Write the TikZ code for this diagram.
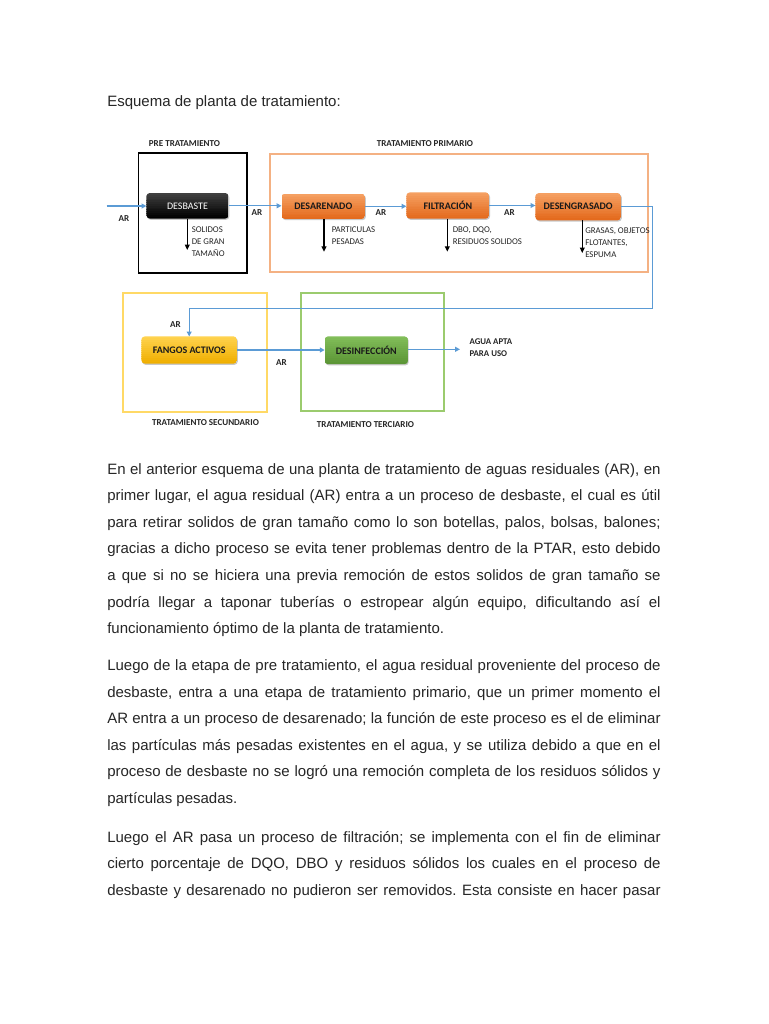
\documentclass[tikz,border=0pt]{standalone}
\usepackage{fontspec}
\setmainfont{Liberation Sans}
\newfontfamily\calib{Carlito}
\usetikzlibrary{arrows.meta,backgrounds,calc}
\definecolor{arblue}{HTML}{5B9BD5}
\definecolor{txtgray}{HTML}{262626}
\definecolor{boxtxt}{HTML}{1A1A1A}
\definecolor{frOrange}{HTML}{F4B183}
\definecolor{frYellow}{HTML}{FFD966}
\definecolor{frGreen}{HTML}{9BCB6E}
\definecolor{orTop}{HTML}{F5A062}
\definecolor{orBot}{HTML}{E46B1E}
\definecolor{yeTop}{HTML}{FFD34F}
\definecolor{yeBot}{HTML}{EFAF00}
\definecolor{grTop}{HTML}{82BE5A}
\definecolor{grBot}{HTML}{5C9636}
\definecolor{bkTop}{HTML}{404040}
\definecolor{bkBot}{HTML}{000000}
\definecolor{shadowgray}{HTML}{C8C8C8}
\frenchspacing
\newcommand\gradbox[3]{%
  \fill[shadowgray, rounded corners=2.5pt] ([xshift=0.6pt,yshift=-0.9pt]#1.south west) rectangle ([xshift=0.6pt,yshift=-0.9pt]#1.north east);
  \begin{scope}
    \clip[rounded corners=2.5pt] (#1.south west) rectangle (#1.north east);
    \foreach \i in {0,...,13}{%
      \pgfmathtruncatemacro\p{100-\i*100/13}%
      \pgfmathsetmacro\fa{\i/14}%
      \pgfmathsetmacro\fb{(\i+1.4)/14}%
      \fill[#2!\p!#3] ($(#1.north west)!\fa!(#1.south west)$) rectangle ($(#1.north east)!\fb!(#1.south east)$);
    }
  \end{scope}}
\begin{document}
\begin{tikzpicture}[x=0.75pt,y=-0.75pt,
  bodyline/.style={anchor=base west, inner sep=0pt, text=txtgray, font=\fontsize{11.25}{13}\selectfont\frenchspacing},
  lab/.style={inner sep=0pt, text=txtgray, font=\calib\bfseries\fontsize{6.8}{8}\selectfont},
  small/.style={inner sep=0pt, anchor=west, align=left, text=txtgray, font=\calib\fontsize{6.6}{9}\selectfont},
  proc/.style={rounded corners=2.5pt, inner sep=0pt, minimum height=19pt, text=boxtxt,
     font=\calib\bfseries\fontsize{7.5}{9}\selectfont},
  flow/.style={draw=arblue, line width=1pt, -{Triangle[width=3.6pt,length=3.6pt]}},
  drop/.style={draw=black, line width=0.9pt, -{Triangle[width=3.6pt,length=4pt]}},
  frame/.style={line width=1.5pt}
]
\useasboundingbox (0,0) rectangle (768,1024);

% title
\node[bodyline] (title) at (107,106) {Esquema de planta de tratamiento:};

% frames
\draw[frame, draw=black, line width=1.2pt] (138.3,152.7) rectangle (246.7,273);
\draw[frame, draw=frOrange] (270,153.5) rectangle (648.3,271.7);
\draw[frame, draw=frYellow] (122.7,293.3) rectangle (266.7,411.7);
\draw[frame, draw=frGreen] (300.7,293.3) rectangle (444.3,411.3);

% frame titles
\node[lab] (tpre) at (184.5,143.3) {PRE TRATAMIENTO};
\node[lab] (tprim) at (425,143.3) {TRATAMIENTO PRIMARIO};
\node[lab] (tsec) at (205.5,422.3) {TRATAMIENTO SECUNDARIO};
\node[lab] (tter) at (365.5,424.3) {TRATAMIENTO TERCIARIO};

% process boxes (text; bodies drawn on background layer)
\node[proc, text=white, font=\calib\fontsize{7.5}{9}\selectfont, minimum width=61.2pt, minimum height=18.75pt] (desbaste) at (187.5,205.8) {DESBASTE};
\node[proc, minimum width=62.3pt, minimum height=18.5pt] (desarenado) at (323.3,206.3) {DESARENADO};
\node[proc, minimum width=61.7pt, minimum height=19.2pt] (filtracion) at (447.8,205.5) {FILTRACIÓN};
\node[proc, minimum width=63.8pt, minimum height=20pt] (desengrasado) at (578.2,206.7) {DESENGRASADO};
\node[proc, minimum width=71.25pt, minimum height=20pt] (fangos) at (189.2,350) {FANGOS ACTIVOS};
\node[proc, minimum width=62pt, minimum height=20.5pt] (desinf) at (366.3,350.3) {DESINFECCIÓN};

\begin{scope}[on background layer]
  \fill[white] (0,0) rectangle (768,1024);
  \gradbox{desbaste}{bkTop}{bkBot}
  \gradbox{desarenado}{orTop}{orBot}
  \gradbox{filtracion}{orTop}{orBot}
  \gradbox{desengrasado}{orTop}{orBot}
  \gradbox{fangos}{yeTop}{yeBot}
  \gradbox{desinf}{grTop}{grBot}
\end{scope}

% coordinates
\coordinate (in) at (106.7,206);
\coordinate (ret) at (652.7,308.3);
\coordinate (out) at (460,349.3);
\coordinate (d1) at (187.3,250);
\coordinate (d2) at (324,251.7);
\coordinate (d3) at (447.3,251.7);
\coordinate (d4) at (582.3,253);

% flow connectors
\draw[flow] (in) -- (in -| desbaste.west);
\draw[flow] (desbaste.east) -- (desbaste.east -| desarenado.west);
\draw[flow] (desarenado.east) -- (desarenado.east -| filtracion.west);
\draw[flow] (filtracion.east) -- (filtracion.east -| desengrasado.west);
\draw[flow] (desengrasado.east) -| (ret) -| (fangos.north);
\draw[flow] (fangos.east) -- (fangos.east -| desinf.west);
\draw[flow] (desinf.east |- out) -- (out);

% drop connectors
\draw[drop] (d1 |- desbaste.south) -- (d1);
\draw[drop] (d2 |- desarenado.south) -- (d2);
\draw[drop] (d3 |- filtracion.south) -- (d3);
\draw[drop] (d4 |- desengrasado.south) -- (d4);

% AR labels
\node[lab] (ar1) at (124,219) {AR};
\node[lab] (ar2) at (257,213) {AR};
\node[lab] (ar3) at (381,213) {AR};
\node[lab] (ar4) at (509.5,212.7) {AR};
\node[lab] (ar5) at (175.5,324.3) {AR};
\node[lab] (ar6) at (281.5,362.3) {AR};

% side labels
\node[small] (s1) at (191.5,242) {SOLIDOS\\DE GRAN\\TAMAÑO};
\node[small] (s2) at (331.5,236) {PARTICULAS\\PESADAS};
\node[small] (s3) at (452.5,236) {DBO, DQO,\\RESIDUOS SOLIDOS};
\node[small] (s4) at (585,242.3) {GRASAS, OBJETOS\\FLOTANTES,\\ESPUMA};
\node[lab, anchor=west, align=left, font=\calib\bfseries\fontsize{6.6}{8.6}\selectfont] (agua) at (469.3,347.5) {AGUA APTA\\PARA USO};

% body paragraph 1
\node[bodyline] (p1a) at (107,474) {\makebox[415pt][s]{En el anterior esquema de una planta de tratamiento de aguas residuales (AR), en}};
\node[bodyline] (p1b) at (107,500.6) {\makebox[415pt][s]{primer lugar, el agua residual (AR) entra a un proceso de desbaste, el cual es útil}};
\node[bodyline] (p1c) at (107,527.2) {\makebox[415pt][s]{para retirar solidos de gran tamaño como lo son botellas, palos, bolsas, balones;}};
\node[bodyline] (p1d) at (107,553.8) {\makebox[415pt][s]{gracias a dicho proceso se evita tener problemas dentro de la PTAR, esto debido}};
\node[bodyline] (p1e) at (107,580.4) {\makebox[415pt][s]{a que si no se hiciera una previa remoción de estos solidos de gran tamaño se}};
\node[bodyline] (p1f) at (107,607) {\makebox[415pt][s]{podría llegar a taponar tuberías o estropear algún equipo, dificultando así el}};
\node[bodyline] (p1g) at (107,633.6) {funcionamiento óptimo de la planta de tratamiento.};

% body paragraph 2
\node[bodyline] (p2a) at (107,670.5) {\makebox[415pt][s]{Luego de la etapa de pre tratamiento, el agua residual proveniente del proceso de}};
\node[bodyline] (p2b) at (107,697.1) {\makebox[415pt][s]{desbaste, entra a una etapa de tratamiento primario, que un primer momento el}};
\node[bodyline] (p2c) at (107,723.7) {\makebox[415pt][s]{AR entra a un proceso de desarenado; la función de este proceso es el de eliminar}};
\node[bodyline] (p2d) at (107,750.3) {\makebox[415pt][s]{las partículas más pesadas existentes en el agua, y se utiliza debido a que en el}};
\node[bodyline] (p2e) at (107,776.9) {\makebox[415pt][s]{proceso de desbaste no se logró una remoción completa de los residuos sólidos y}};
\node[bodyline] (p2f) at (107,803.5) {partículas pesadas.};

% body paragraph 3
\node[bodyline] (p3a) at (107,842) {\makebox[415pt][s]{Luego el AR pasa un proceso de filtración; se implementa con el fin de eliminar}};
\node[bodyline] (p3b) at (107,868.6) {\makebox[415pt][s]{cierto porcentaje de DQO, DBO y residuos sólidos los cuales en el proceso de}};
\node[bodyline] (p3c) at (107,895.2) {\makebox[415pt][s]{desbaste y desarenado no pudieron ser removidos. Esta consiste en hacer pasar}};
\end{tikzpicture}
\end{document}
